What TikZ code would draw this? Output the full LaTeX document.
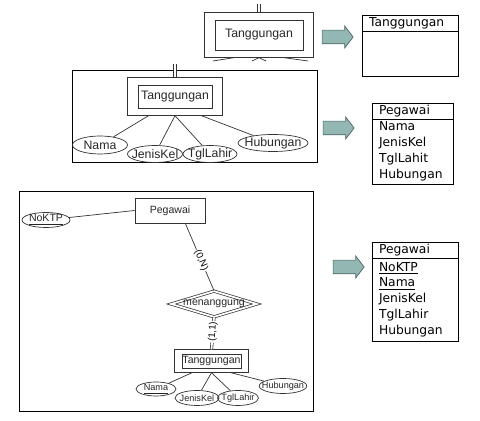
\documentclass[tikz,border=0pt]{standalone}
\usepackage{fontspec}
\setmainfont{DejaVu Sans}
\newfontfamily\erfont{Liberation Sans}
\usetikzlibrary{fit,positioning,shapes.geometric,shapes.arrows}
\definecolor{arrowfill}{HTML}{93B8B4}
\definecolor{arrowline}{HTML}{4A6664}

\begin{document}
\begin{tikzpicture}[x=0.02cm, y=-0.02cm]
 	\tikzstyle{ent}=[rectangle, draw=black!80, inner sep=0pt]
 	\tikzstyle{weak}=[rectangle, draw=black!80, inner xsep=0.2cm, inner ysep=0.14cm]
 	\tikzstyle{attr}=[ellipse, draw=black!80, inner sep=0pt]
 	\tikzstyle{rel}=[diamond, draw=black!80, double, double distance=1pt, inner sep=0pt]
 	\tikzstyle{link}=[draw=black!80, thin]
 	\tikzstyle{dbl}=[draw=black!80, double, double distance=1pt]
 	\tikzstyle{panel}=[draw=black, line width=0.45pt]
 	\tikzstyle{goto}=[single arrow, draw=arrowline, fill=arrowfill, minimum height=0.62cm, single arrow head extend=0.08cm, single arrow tip angle=105, inner xsep=0pt, inner ysep=0.13cm]
 	\tikzstyle{hdr}=[rectangle, draw=black, outer sep=0pt, inner xsep=4pt, inner ysep=0pt, minimum height=0.32cm, align=left, font=\fontsize{7}{9}\selectfont]
 	\tikzstyle{every label}=[font=\erfont\fontsize{7}{8}\selectfont, text=black!85, inner sep=0pt]
 	\useasboundingbox (0,0) rectangle (480,421);
 	% first step: the weak entity alone
 	\node[ent, minimum width=1.76cm, minimum height=0.6cm] (tangA) at (259,35) [label=center:Tanggungan] {};
 	\node[weak, fit=(tangA)] (tangAo) {};
 	\coordinate (upA) at (259,4);
 	\coordinate (stubA1) at (213,61);
 	\coordinate (stubA2) at (252,61);
 	\coordinate (stubA3) at (266,61);
 	\coordinate (stubA4) at (308,61);
 	\path (upA) edge [dbl] (tangAo)
 	(tangAo.222) edge [link] (stubA1)
 	(tangAo.south) edge [link] (stubA2)
 	(tangAo.south) edge [link] (stubA3)
 	(tangAo.318) edge [link] (stubA4);
 	\node[goto] (arrA) at (335,37) {};
 	\node[hdr, text width=1.64cm, anchor=north west] (hdrA) at (362,15) {Tanggungan};
 	\node[hdr, text width=1.64cm, minimum height=0.9cm, below=0pt of hdrA] (bodyA) {};
 	% second step: with its attributes
 	\draw[panel] (72,70) rectangle (317,162);
 	\node[ent, minimum width=1.48cm, minimum height=0.46cm] (tangB) at (175,96.5) [label=center:Tanggungan] {};
 	\node[weak, fit=(tangB)] (tangBo) {};
 	\coordinate (upB) at (175,64);
 	\node[attr, minimum width=1.1cm, minimum height=0.36cm] (namaB) at (100,145) [label=center:Nama] {};
 	\node[attr, minimum width=1.1cm, minimum height=0.34cm] (jkB) at (155,154) [label=center:JenisKel] {};
 	\node[attr, minimum width=1.08cm, minimum height=0.34cm] (tglB) at (210,154) [label=center:TglLahir] {};
 	\node[attr, minimum width=1.4cm, minimum height=0.34cm] (hubB) at (273,143) [label=center:Hubungan] {};
 	\path (upB) edge [dbl] (tangBo)
 	(tangBo.216) edge [link] (namaB)
 	(tangBo.south) edge [link] (jkB)
 	(tangBo.south) edge [link] (tglB)
 	(tangBo.324) edge [link] (hubB);
 	\node[goto] (arrB) at (336,128) {};
 	\node[hdr, text width=1.34cm, anchor=north west] (hdrB) at (372,103) {Pegawai};
 	\node[hdr, text width=1.34cm, minimum height=1.3cm, below=0pt of hdrB] (bodyB) {Nama\\JenisKel\\TglLahit\\Hubungan};
 	% third step: owner and identifying relationship
 	\draw[panel] (19,191) rectangle (313,411);
 	\begin{scope}[every label/.style={font=\erfont\fontsize{6}{7}\selectfont, text=black!85, inner sep=0pt}]
 	\node[ent, minimum width=1.4cm, minimum height=0.5cm] (pegC) at (170,210.5) [label=center:Pegawai] {};
 	\node[attr, minimum width=0.96cm, minimum height=0.3cm] (noktpC) at (46,220) [label=center:\underline{NoKTP}] {};
 	\node[rel, minimum width=1.72cm, minimum height=0.52cm] (menC) at (214,304) [label=center:menanggung] {};
 	\node[ent, minimum width=1.18cm, minimum height=0.28cm] (tangC) at (211.5,361) [label=center:Tanggungan] {};
 	\node[weak, inner xsep=0.14cm, inner ysep=0.08cm, fit=(tangC)] (tangCo) {};
 	\end{scope}
 	\begin{scope}[every label/.style={font=\erfont\fontsize{5.2}{6}\selectfont, text=black!85, inner sep=0pt}]
 	\node[attr, minimum width=0.8cm, minimum height=0.28cm] (namaC) at (156,389) [label=center:\underline{Nama}] {};
 	\node[attr, minimum width=0.88cm, minimum height=0.3cm] (jkC) at (197,398) [label=center:JenisKel] {};
 	\node[attr, minimum width=0.82cm, minimum height=0.3cm] (tglC) at (238,398) [label=center:TglLahir] {};
 	\node[attr, minimum width=0.95cm, minimum height=0.3cm] (hubC) at (283,386) [label=center:Hubungan] {};
 	\end{scope}
 	\path (noktpC) edge [link] (pegC.west)
 	(pegC.-40) edge [link] node[pos=0.55, sloped, fill=white, inner sep=0.5pt, font=\erfont\fontsize{5.5}{6}\selectfont] {(0,N)} (menC.north)
 	(menC.south) edge [dbl] node[pos=0.45, sloped, fill=white, inner sep=0.5pt, font=\erfont\fontsize{5.5}{6}\selectfont] {(1,1)} (tangCo.north)
 	(tangCo.211) edge [link] (namaC)
 	(tangCo.south) edge [link] (jkC)
 	(tangCo.south) edge [link] (tglC)
 	(tangCo.329) edge [link] (hubC);
 	\node[goto] (arrC) at (346,267) {};
 	\node[hdr, text width=1.44cm, anchor=north west] (hdrC) at (372,242) {Pegawai};
 	\node[hdr, text width=1.44cm, minimum height=1.66cm, below=0pt of hdrC] (bodyC) {\underline{NoKTP}\\\underline{Nama}\\JenisKel\\TglLahir\\Hubungan};
\end{tikzpicture}
\end{document}
